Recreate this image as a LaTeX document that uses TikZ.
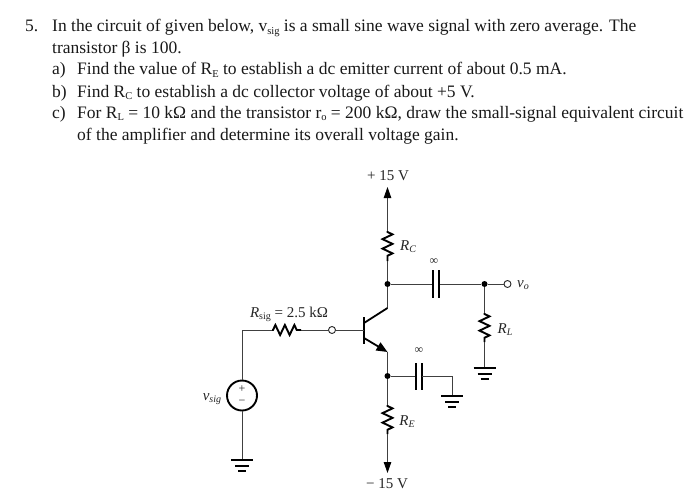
\documentclass[tikz,border=0pt]{standalone}
\usepackage{fontspec}
\setmainfont{Liberation Serif}
\usetikzlibrary{decorations.pathmorphing,arrows.meta}
\newcommand{\lowtxt}[1]{\raisebox{-0.3ex}{\fontsize{10.5}{12}\selectfont #1}}
\tikzset{
  x=1pt,y=-1pt,
  txt/.style={anchor=base west,inner sep=0pt,font=\fontsize{17.5}{21}\selectfont,text=black!90},
  lab/.style={inner sep=0pt,font=\fontsize{15}{16}\selectfont,text=black!85},
  ilab/.style={inner sep=0pt,font=\fontsize{15}{16}\itshape\selectfont,text=black!85},
  sgn/.style={inner sep=0pt,font=\fontsize{12}{12}\selectfont,text=black!85,text height=6pt,text depth=0pt},
  wire/.style={draw=black!75,line width=0.9pt},
  res/.style={draw=black,line width=1.9pt,line join=miter,decorate,decoration={zigzag,segment length=9.5pt,amplitude=5pt,pre length=1pt,post length=1pt}},
  plate/.style={draw=black,line width=2pt},
  dot/.style={circle,fill=black,inner sep=0pt,minimum size=6pt},
  term/.style={circle,draw=black!85,fill=white,line width=0.9pt,inner sep=0pt,minimum size=7pt},
  src/.style={circle,draw=black,line width=1.9pt,inner sep=0pt,minimum size=30pt},
  railtip/.style={-{Triangle[length=11pt,width=7.5pt,color=black]}},
  bar/.style={draw=black,line width=1.8pt},
  gline/.style={draw=black,line width=1.5pt}
}
\newcommand{\gnd}[1]{%
  \draw[gline] ([xshift=-11pt]#1) -- ([xshift=11pt]#1);
  \draw[gline] ([xshift=-7pt,yshift=-6pt]#1) -- ([xshift=7pt,yshift=-6pt]#1);
  \draw[gline] ([xshift=-4pt,yshift=-11pt]#1) -- ([xshift=4pt,yshift=-11pt]#1);
}
\begin{document}
\begin{tikzpicture}
\useasboundingbox (0,0) rectangle (700,500);
\fill[white] (0,0) rectangle (700,500);
% text
\node[txt] (n5) at (25,32) {5.};
\node[txt] (l1) at (52,32) {In the circuit of given below, v\lowtxt{sig} is a small sine wave signal with zero average. The};
\node[txt] (l2) at (52,54) {transistor β is 100.};
\node[txt] (na) at (52,75) {a)};
\node[txt] (l3) at (77,75) {Find the value of R\lowtxt{E} to establish a dc emitter current of about 0.5 mA.};
\node[txt] (nb) at (52,97) {b)};
\node[txt] (l4) at (77,97) {Find R\lowtxt{C} to establish a dc collector voltage of about +5 V.};
\node[txt] (nc) at (52,118) {c)};
\node[txt] (l5) at (77,118) {For R\lowtxt{L} = 10 kΩ and the transistor r\lowtxt{o} = 200 kΩ, draw the small-signal equivalent circuit};
\node[txt] (l6) at (77,140) {of the amplifier and determine its overall voltage gain.};
% coordinates
\coordinate (vcc) at (387.5,187);
\coordinate (rct) at (387.5,231);
\coordinate (rcb) at (387.5,261);
\node[dot] (nc1) at (387.5,284) {};
\coordinate (c1a) at (433,284);
\coordinate (c1b) at (439,284);
\coordinate (c1at) at (433,270);
\coordinate (c1ab) at (433,298);
\coordinate (c1bt) at (439,270);
\coordinate (c1bb) at (439,298);
\node[dot] (no) at (484.5,284) {};
\node[term] (to) at (507.5,284) {};
\coordinate (rlt) at (484.5,313);
\coordinate (rlb) at (484.5,342);
\coordinate (g1) at (484.5,368);
\coordinate (ctop) at (387.5,308);
\coordinate (cbar) at (364,323);
\coordinate (ebar) at (364,338);
\coordinate (ebot) at (387.5,352);
\coordinate (bt) at (364,317);
\coordinate (bb) at (364,344);
\coordinate (b) at (364,330);
\node[term] (tb) at (332,330) {};
\coordinate (rst) at (272,330);
\coordinate (rsb) at (301,330);
\coordinate (corner) at (242,330);
\node[src] (vs) at (242,395.5) {};
\coordinate (g2) at (242,460);
\node[dot] (ne) at (387.5,376) {};
\coordinate (c2a) at (416,376);
\coordinate (c2b) at (422,376);
\coordinate (c2at) at (416,363);
\coordinate (c2ab) at (416,390);
\coordinate (c2bt) at (422,363);
\coordinate (c2bb) at (422,390);
\coordinate (c2r) at (452,376);
\coordinate (g3) at (452,396);
\coordinate (ret) at (387.5,405);
\coordinate (reb) at (387.5,434);
\coordinate (vee) at (387.5,473);
% connectors
\draw[wire,railtip] (rct) -- (vcc);
\draw[res] (rct) -- (rcb);
\draw[wire] (rcb) -- (nc1);
\draw[wire] (nc1) -- (ctop);
\draw[bar] (ctop) -- (cbar);
\draw[wire] (nc1) -- (c1a);
\draw[wire] (c1b) -- (no);
\draw[wire] (no) -- (to);
\draw[plate] (c1at) -- (c1ab);
\draw[plate] (c1bt) -- (c1bb);
\draw[wire] (no) -- (rlt);
\draw[res] (rlt) -- (rlb);
\draw[wire] (rlb) -- (g1);
\gnd{g1}
\draw[bar] (bt) -- (bb);
\draw[wire] (tb) -- (b);
\draw[wire] (tb) -- (rsb);
\draw[res] (rst) -- (rsb);
\draw[wire] (rst) -- (corner) -- (vs);
\draw[wire] (vs) -- (g2);
\gnd{g2}
\draw[bar,-{Triangle[length=11pt,width=9pt]}] (ebar) -- (ebot);
\draw[wire] (ebot) -- (ne);
\draw[wire] (ne) -- (c2a);
\draw[plate] (c2at) -- (c2ab);
\draw[plate] (c2bt) -- (c2bb);
\draw[wire] (c2b) -- (c2r) -- (g3);
\gnd{g3}
\draw[wire] (ne) -- (ret);
\draw[res] (ret) -- (reb);
\draw[wire,railtip] (reb) -- (vee);
% labels
\node[sgn] (pl) at (242,389.5) {+};
\node[sgn] (mi) at (242,401.5) {−};
\node[lab] (l15) at (388,176) {+ 15 V};
\node[lab] (lm15) at (387,484) {− 15 V};
\node[ilab] (lrc) at (408,247) {R\lowtxt{\fontsize{10}{10}\selectfont\itshape C}};
\node[ilab] (lre) at (407,422) {R\lowtxt{\fontsize{10}{10}\selectfont\itshape E}};
\node[ilab] (lrl) at (505,330) {R\lowtxt{\fontsize{10}{10}\selectfont\itshape L}};
\node[ilab] (lvo) at (523,285) {v\lowtxt{\fontsize{10}{10}\selectfont\itshape o}};
\node[ilab] (lvs) at (212,399) {v\lowtxt{\fontsize{10}{10}\selectfont\itshape sig}};
\node[lab] (lrs) at (289,314) {\textit{R}\lowtxt{\fontsize{10}{10}\selectfont sig} = 2.5 kΩ};
\node[lab] (i1) at (434,262) {\fontsize{12}{12}\selectfont ∞};
\node[lab] (i2) at (419,351) {\fontsize{12}{12}\selectfont ∞};
\end{tikzpicture}
\end{document}
